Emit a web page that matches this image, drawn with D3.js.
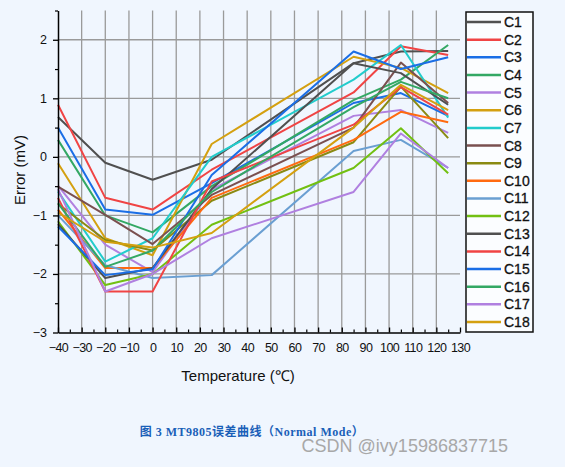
<!DOCTYPE html>
<html><head><meta charset="utf-8">
<script src="https://cdn.jsdelivr.net/npm/d3@7/dist/d3.min.js"></script>
<style>
html,body{margin:0;padding:0;background:#f0f6fe;}
svg{display:block;}
text{font-family:"Liberation Sans",Arial,sans-serif;}
</style></head>
<body>
<svg id="chart" width="565" height="467"></svg>
<script>
// Temperatures (°C) at which each curve was measured
const temps = [-40, -20, 0, 25, 85, 105, 125];
const xTicks = [-40,-30,-20,-10,0,10,20,30,40,50,60,70,80,90,100,110,120,130];
const yTicks = [-3,-2,-1,0,1,2];
const names = ["C1","C2","C3","C4","C5","C6","C7","C8","C9","C10","C11","C12","C13","C14","C15","C16","C17","C18"];
const colors = ["#505050","#f04444","#1a6ee6","#33a864","#b080e0","#d4a010","#22cccc","#7a5050","#8a8a12","#ff6a10","#6a9fd2","#72c012","#505050","#f04444","#1a6ee6","#33a864","#b080e0","#d4a010"];

// Error (mV) per curve
const C1  = [ 0.68, -0.10, -0.39, -0.05, 1.60, 1.80, 1.81];
const C2  = [ 0.89, -0.70, -0.90, -0.22, 1.10, 1.89, 1.74];
const C3  = [ 0.50, -0.90, -0.99, -0.45, 0.92, 1.09, 0.70];
const C4  = [ 0.29, -1.00, -1.29, -0.50, 0.97, 1.32, 1.91];
const C5  = [-0.49, -1.50, -1.97, -0.56, 0.70, 0.80, 0.41];
const C6  = [-0.11, -1.39, -1.68,  0.22, 1.71, 1.52, 1.09];
const C7  = [-0.59, -1.79, -1.39,  0.00, 1.32, 1.91, 0.67];
const C8  = [-0.51, -0.99, -1.49, -0.65, 0.50, 1.61, 0.92];
const C9  = [-0.80, -1.42, -1.60, -0.75, 0.25, 1.20, 0.32];
const C10 = [-0.90, -1.90, -1.90, -0.70, 0.29, 0.77, 0.59];
const C11 = [-1.00, -1.85, -2.07, -2.02, 0.10, 0.29, -0.19];
const C12 = [-1.10, -2.19, -2.00, -1.16, -0.19, 0.49, -0.28];
const C13 = [-1.15, -2.07, -1.90, -0.55, 1.60, 1.43, 0.89];
const C14 = [-0.70, -2.30, -2.30, -0.42, 0.55, 1.19, 0.72];
const C15 = [-1.19, -2.02, -1.92, -0.31, 1.80, 1.50, 1.70];
const C16 = [-0.79, -1.88, -1.60, -0.60, 0.85, 1.28, 1.00];
const C17 = [-0.55, -2.30, -2.00, -1.39, -0.60, 0.40, -0.19];
const C18 = [-0.95, -1.45, -1.55, -1.30, 0.50, 1.23, 0.80];

const seriesValues = [C1,C2,C3,C4,C5,C6,C7,C8,C9,C10,C11,C12,C13,C14,C15,C16,C17,C18];
const series = names.map((n,i)=>({name:n,color:colors[i],values:seriesValues[i].map((v,j)=>({t:temps[j],v:v}))}));

const svg = d3.select("#chart");
svg.append("rect").attr("width",565).attr("height",467).attr("fill","#f0f6fe");

const x = d3.scaleLinear().domain([-40,130]).range([58,460]);
const y = d3.scaleLinear().domain([-3,2.5]).range([332.5,10.5]);

// grid
const g = svg.append("g");
g.selectAll("line.vg").data(xTicks.filter(t=>t>-40 && t<130)).enter().append("line")
  .attr("x1",d=>x(d)).attr("x2",d=>x(d)).attr("y1",y(2.5)).attr("y2",y(-3))
  .attr("stroke","#9a9a9a").attr("stroke-width",1.3);
g.selectAll("line.hg").data(yTicks.filter(t=>t>-3)).enter().append("line")
  .attr("x1",x(-40)).attr("x2",x(130)).attr("y1",d=>y(d)).attr("y2",d=>y(d))
  .attr("stroke","#9a9a9a").attr("stroke-width",1.3);

// lines
const line = d3.line().x(d=>x(d.t)).y(d=>y(d.v));
svg.append("g").selectAll("path").data(series).enter().append("path")
  .attr("d",d=>line(d.values)).attr("fill","none")
  .attr("stroke",d=>d.color).attr("stroke-width",2).attr("stroke-linejoin","round");

// axes
const xAxis = d3.axisBottom(x).tickValues(xTicks).tickSizeInner(-5).tickSizeOuter(0).tickPadding(11).tickFormat(d3.format("d"));
const xg = svg.append("g").attr("transform",`translate(0,${y(-3)})`).call(xAxis);
xg.select(".domain").attr("stroke","#000").attr("stroke-width",1.5);
xg.selectAll(".tick line").attr("stroke","#000").attr("stroke-width",1.3);
xg.selectAll("text").attr("font-size",12.5).attr("fill","#111").attr("letter-spacing","-0.6px");
const xm = svg.append("g").attr("transform",`translate(0,${y(-3)})`)
  .call(d3.axisBottom(x).tickValues(d3.range(-35,130,10)).tickSize(-3).tickFormat(""));
xm.select(".domain").remove();
xm.selectAll(".tick line").attr("stroke","#000").attr("stroke-width",1.2);

const yAxis = d3.axisLeft(y).tickValues(yTicks).tickSizeInner(5).tickSizeOuter(0).tickPadding(6).tickFormat(d3.format("d"));
const yg = svg.append("g").attr("transform",`translate(${x(-40)},0)`).call(yAxis);
yg.select(".domain").attr("stroke","#000").attr("stroke-width",1.5);
yg.selectAll(".tick line").attr("stroke","#000").attr("stroke-width",1.3);
yg.selectAll("text").attr("font-size",12.5).attr("fill","#111");
const ym = svg.append("g").attr("transform",`translate(${x(-40)},0)`)
  .call(d3.axisLeft(y).tickValues(d3.range(-2.5,2.6,1)).tickSize(3).tickFormat(""));
ym.select(".domain").remove();
ym.selectAll(".tick line").attr("stroke","#000").attr("stroke-width",1.2);

// axis titles
svg.append("text").attr("x",238).attr("y",381).attr("text-anchor","middle")
  .attr("font-size",15).attr("fill","#111").text("Temperature (℃)");
svg.append("text").attr("transform","translate(25,170) rotate(-90)").attr("text-anchor","middle")
  .attr("font-size",15).attr("fill","#111").text("Error (mV)");

// legend
const lg = svg.append("g");
lg.append("rect").attr("x",466).attr("y",12).attr("width",67).attr("height",320)
  .attr("fill","#fbfdff").attr("stroke","#111").attr("stroke-width",1.5);
const ly = d3.scaleLinear().domain([0,17]).range([22,322]);
const items = lg.selectAll("g.it").data(series).enter().append("g")
  .attr("transform",(d,i)=>`translate(0,${ly(i)})`);
items.append("line").attr("x1",467).attr("x2",501).attr("y1",0).attr("y2",0)
  .attr("stroke",d=>d.color).attr("stroke-width",2.5);
items.append("text").attr("x",504).attr("y",5).attr("font-size",14).attr("fill","#111")
  .attr("stroke","#111").attr("stroke-width",0.3).text(d=>d.name);

// caption
svg.append("text").attr("x",252).attr("y",436).attr("text-anchor","middle")
  .attr("font-size",12).attr("font-weight","bold").attr("fill","#1a5fb8").attr("letter-spacing","0.5px")
  .style("font-family","'Liberation Serif','Noto Sans CJK SC',serif")
  .text("图 3 MT9805误差曲线（Normal Mode）");

// watermark
svg.append("text").attr("x",508).attr("y",452).attr("text-anchor","end")
  .attr("font-size",18).attr("fill","#a8a8a8").text("CSDN @ivy15986837715");
</script>
</body></html>
